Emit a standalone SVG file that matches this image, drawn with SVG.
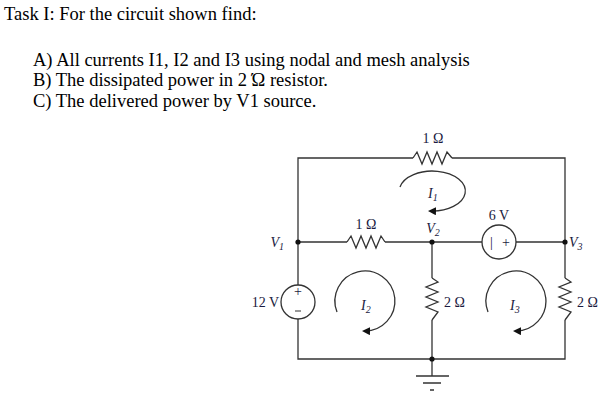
<svg xmlns="http://www.w3.org/2000/svg" width="611" height="408" viewBox="0 0 611 408">
<style>
.t{font-family:"Liberation Serif",serif;font-size:18.5px;fill:#000}
.l{font-family:"Liberation Serif",serif;font-size:14px;fill:#1a1a40}
.i{font-style:italic}
.w{fill:none;stroke:#333;stroke-width:1.3}
</style>
<defs><marker id="a" markerWidth="8" markerHeight="8" refX="6" refY="4" orient="auto" markerUnits="userSpaceOnUse"><path d="M0,0L8,4L0,8z" fill="#111"/></marker></defs>
<rect width="611" height="408" fill="#fff"/>
<text class="t" x="4" y="20" font-size="20">Task I: For the circuit shown find:</text>
<text class="t" x="33" y="66">A) All currents I1, I2 and I3 using nodal and mesh analysis</text>
<text class="t" x="33" y="86">B) The dissipated power in 2 Ώ resistor.</text>
<text class="t" x="33" y="107">C) The delivered power by V1 source.</text>
<g id="wires" class="w">
<path d="M413,158H298V285M298,319V359H565V320M565,278V158H452"/>
<path d="M298,242H347M385,242H482M516,242H565"/>
<path d="M432,242V278M432,320V376"/>
<path d="M416,376H449M423,383H441M430,390H434"/>
</g>
<g id="R1top"><path class="w" d="M413,158l4,-6l5,12l5,-12l5,12l5,-12l5,12l5,-12l5,6"/><text class="l" x="433" y="143" text-anchor="middle">1 Ω</text></g>
<g id="R1mid"><path class="w" d="M347,242l4,-6l5,12l5,-12l5,12l5,-12l5,12l5,-12l4,6"/><text class="l" x="366" y="229" text-anchor="middle">1 Ω</text></g>
<g id="R2mid"><path class="w" d="M432,278l6,4l-12,5l12,5l-12,5l12,5l-12,5l12,5l-6,8"/><text class="l" x="444" y="307">2 Ω</text></g>
<g id="R2right"><path class="w" d="M565,278l6,4l-12,5l12,5l-12,5l12,5l-12,5l12,5l-6,8"/><text class="l" x="577" y="307">2 Ω</text></g>
<g id="V6"><circle class="w" cx="499" cy="242" r="17"/><text class="l" x="490" y="247" font-size="11">|</text><text class="l" x="502" y="247">+</text><text class="l" x="499" y="220" text-anchor="middle">6 V</text></g>
<g id="V12"><circle class="w" cx="298" cy="302" r="17"/><text class="l" x="298" y="296" text-anchor="middle" font-size="10" fill="#a33">+</text><path d="M295,311h6" stroke="#333"/><text class="l" x="279" y="307" text-anchor="end">12 V</text></g>
<g id="nodes" fill="#111"><circle cx="298" cy="242" r="2.6"/><circle cx="432" cy="242" r="2.6"/><circle cx="565" cy="242" r="2.6"/><circle cx="432" cy="359" r="2.6"/></g>
<text class="l i" x="284" y="247" text-anchor="end">V<tspan font-size="10" dy="3">1</tspan></text>
<text class="l i" x="433" y="233" text-anchor="middle">V<tspan font-size="10" dy="3">2</tspan></text>
<text class="l i" x="569" y="247">V<tspan font-size="10" dy="3">3</tspan></text>
<g id="loops" class="w">
<path d="M400,187A33,20 0 1 1 430,211" marker-end="url(#a)"/>
<path d="M337,312A30,30 0 1 1 364,331" marker-end="url(#a)"/>
<path d="M488,312A30,30 0 1 1 515,331" marker-end="url(#a)"/>
</g>
<text class="l i" x="428" y="198">I<tspan font-size="10" dy="3">1</tspan></text>
<text class="l i" x="361" y="310">I<tspan font-size="10" dy="3">2</tspan></text>
<text class="l i" x="510" y="310">I<tspan font-size="10" dy="3">3</tspan></text>
</svg>
